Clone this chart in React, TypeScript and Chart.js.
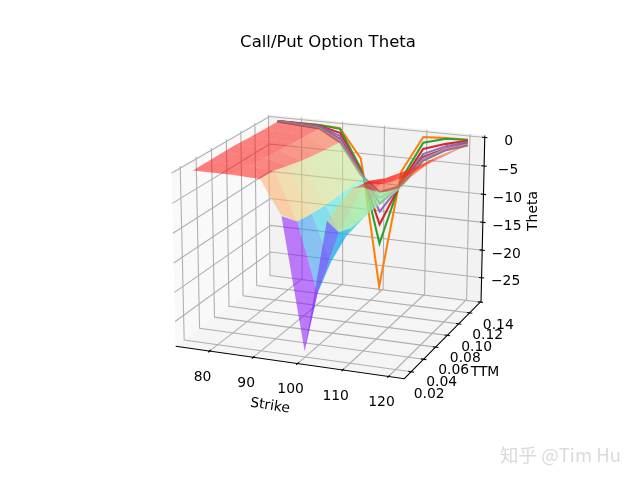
import { useEffect, useRef } from 'react';
import { Chart, registerables } from 'chart.js';

Chart.register(...registerables);

const TITLE = 'Call/Put Option Theta';
const WATERMARK = '知乎 @Tim Hu';

const strikeTicks = [80, 90, 100, 110, 120];
const ttmTicks = [0.02, 0.04, 0.06, 0.08, 0.1, 0.12, 0.14];
const thetaTicks = [-25, -20, -15, -10, -5, 0];
const ttmTickLabels = ['0.02', '0.04', '0.06', '0.08', '0.10', '0.12', '0.14'];

const ttm = [0.0192, 0.0385, 0.0577, 0.0769, 0.0962, 0.1154, 0.1346];

// surface: strikes read per expiry, the range gets narrower for short expiries
const strikes0 = [75.2, 84, 90.3, 94.8, 95, 100, 105, 110.5, 111, 110.7];
const strikes1 = [75.1, 84.5, 90.3, 95.3, 95.4, 99.9, 104.7, 110, 111.4, 110.5];
const strikes2 = [75, 85, 90.3, 95.5, 95.6, 99.9, 104.5, 109.8, 112, 110.7];
const strikes3 = [75, 85, 90.3, 95.7, 95.8, 99.9, 104.6, 109.7, 112.8, 111];
const strikes4 = [75.1, 85.2, 90.3, 95.8, 95.9, 100, 104.8, 109.7, 113.8, 111.5];
const strikes5 = [75.2, 85.3, 90.4, 95.9, 96, 100, 105, 109.8, 115.8, 112.5];
const strikes6 = [75.3, 85.4, 90.4, 96.1, 96.2, 100, 105.1, 110.1, 115.4, 120.4];

const theta0 = [-0.1, -0.1, -0.3, -5.7, -6, -28.2, -5.9, -0.1, -0.1, -0.1];
const theta1 = [-0.1, -0.1, -0.4, -8.5, -8.5, -20.3, -9.5, -1.6, -0.4, -1];
const theta2 = [-0.1, -0.2, -1.1, -8.8, -8.8, -16.8, -10.5, -3.8, -1.5, -2.6];
const theta3 = [-0.1, -0.3, -1.7, -8.9, -8.9, -14.5, -10.3, -5.5, -2, -3.6];
const theta4 = [-0.2, -0.5, -2.2, -8.9, -8.9, -13, -10, -6.4, -2.4, -4.2];
const theta5 = [-0.2, -0.6, -2.5, -8.7, -8.7, -12, -9.9, -6, -2, -4];
const theta6 = [-0.2, -0.7, -2.8, -8.6, -8.6, -11, -9.8, -5.2, -2.8, -1];

// line per expiry, all of them on the last expiry's strikes
const line0 = [-0.1, -0.1, -0.3, -5.3, -8.8, -28.2, -6.8, -0.4, -0.2, -0.1];
const line1 = [-0.1, -0.1, -0.4, -7.1, -8.8, -20.3, -8.2, -1.4, -0.3, -0.15];
const line2 = [-0.1, -0.2, -1.1, -7.6, -8.8, -16.8, -8.8, -2.5, -1.2, -0.3];
const line3 = [-0.1, -0.3, -1.7, -7.8, -8.8, -14.5, -9.1, -3.4, -1.6, -0.5];
const line4 = [-0.2, -0.5, -2.2, -8, -8.8, -13, -9.2, -3.9, -2, -0.7];
const line5 = [-0.2, -0.6, -2.5, -8.1, -8.7, -12, -9.3, -4.3, -2.1, -0.9];
const line6 = [-0.2, -0.7, -2.8, -8.2, -8.7, -11, -9.4, -4.6, -2.3, -1.1];
const lineStrikes = [75.3, 85.4, 90.4, 95.4, 96.2, 100, 105.1, 110.1, 115.4, 120.4];

const strikeRows = [strikes0, strikes1, strikes2, strikes3, strikes4, strikes5, strikes6];
const thetaRows = [theta0, theta1, theta2, theta3, theta4, theta5, theta6];
const lineRows = [line0, line1, line2, line3, line4, line5, line6];
const lineColors = ['#ff7f0e', '#2ca02c', '#d62728', '#9467bd', '#8c564b', '#e377c2', '#7f7f7f'];

// 3d box limits and camera
const xLim = [72.15, 123.4];
const yLim = [0.0092, 0.1415];
const zLim = [-29.3, 0.36];
const ELEV = (17.5 * Math.PI) / 180;
const AZIM = (-68.5 * Math.PI) / 180;
const CAM_DIST = 10;
const BOX_XY = 1.1428;
const BOX_Z = 0.857;
const SCALE = 2085;
const CENTER_X = 333;
const CENTER_Y = 239;

function project(k: number, t: number, z: number) {
  const px = ((k - xLim[0]) / (xLim[1] - xLim[0]) - 0.5) * BOX_XY;
  const py = ((t - yLim[0]) / (yLim[1] - yLim[0]) - 0.5) * BOX_XY;
  const pz = ((z - zLim[0]) / (zLim[1] - zLim[0]) - 0.5) * BOX_Z;
  const sa = Math.sin(AZIM);
  const ca = Math.cos(AZIM);
  const se = Math.sin(ELEV);
  const ce = Math.cos(ELEV);
  const right = px * -sa + py * ca;
  const up = px * -ca * se + py * -sa * se + pz * ce;
  const depth = CAM_DIST - (px * ca * ce + py * sa * ce + pz * se);
  return { x: CENTER_X + (SCALE * right) / depth, y: CENTER_Y - (SCALE * up) / depth, depth };
}

type P3 = [number, number, number];

function toPoints(path: P3[]) {
  return path.map(([k, t, z]) => {
    const p = project(k, t, z);
    return { x: p.x, y: p.y };
  });
}

function stroke(path: P3[], color: string, width: number) {
  return {
    data: toPoints(path),
    showLine: true,
    pointRadius: 0,
    borderColor: color,
    borderWidth: width,
    tension: 0,
    fill: false,
  };
}

function filled(path: P3[], color: string) {
  return {
    data: toPoints([...path, path[0]]),
    showLine: true,
    pointRadius: 0,
    borderWidth: 0,
    backgroundColor: color,
    tension: 0,
    fill: 'shape',
  };
}

// pulls the mid-high values towards green, the pale part of the surface is greener than a plain norm
function remap(t: number) {
  const from = [0, 0.45, 0.7, 0.8, 1];
  const to = [0, 0.5, 0.65, 0.76, 1];
  for (let i = 1; i < from.length; i++) {
    if (t <= from[i]) {
      return to[i - 1] + ((t - from[i - 1]) / (from[i] - from[i - 1])) * (to[i] - to[i - 1]);
    }
  }
  return 1;
}

function rainbow(t: number) {
  const r = Math.abs(2 * t - 0.5);
  const g = Math.sin(Math.PI * t);
  const b = Math.cos((Math.PI * t) / 2);
  const c = (v: number) => Math.round(Math.min(1, v) * 255);
  return `rgba(${c(r)},${c(g)},${c(b)},0.5)`;
}

function buildDatasets() {
  const [x0, x1] = xLim;
  const [y0, y1] = yLim;
  const [z0, z1] = zLim;
  const out: any[] = [];

  // panes
  out.push(filled([[x0, y0, z0], [x0, y1, z0], [x0, y1, z1], [x0, y0, z1]], '#f9f9f9'));
  out.push(filled([[x0, y1, z0], [x1, y1, z0], [x1, y1, z1], [x0, y1, z1]], '#f2f2f2'));
  out.push(filled([[x0, y0, z0], [x1, y0, z0], [x1, y1, z0], [x0, y1, z0]], '#f5f5f5'));

  // grid
  const gridColor = '#b0b0b0';
  strikeTicks.forEach((k) => {
    out.push(stroke([[k, y0, z0], [k, y1, z0], [k, y1, z1]], gridColor, 1.1));
  });
  ttmTicks.forEach((t) => {
    out.push(stroke([[x1, t, z0], [x0, t, z0], [x0, t, z1]], gridColor, 1.1));
  });
  thetaTicks.forEach((z) => {
    out.push(stroke([[x0, y0, z], [x0, y1, z], [x1, y1, z]], gridColor, 1.1));
  });

  // axis lines and tick marks
  out.push(stroke([[x0, y0, z0], [x1, y0, z0], [x1, y1, z0], [x1, y1, z1]], '#000', 1.1));
  const dy = (y1 - y0) * 0.014;
  const dx = (x1 - x0) * 0.012;
  strikeTicks.forEach((k) => out.push(stroke([[k, y0 - dy, z0], [k, y0 + dy, z0]], '#000', 1.1)));
  ttmTicks.forEach((t) => out.push(stroke([[x1 - dx, t, z0], [x1 + dx, t, z0]], '#000', 1.1)));
  thetaTicks.forEach((z) => out.push(stroke([[x1 - dx, y1, z], [x1 + dx, y1, z]], '#000', 1.1)));

  // every expiry drawn as a line on the back wall
  lineRows.forEach((row, i) => {
    const path = row.map((z, j): P3 => [lineStrikes[j], ttm[6], z]);
    out.push(stroke(path, lineColors[i], 2.08));
  });

  // surface, far quads first, coloured by the line values
  const quads: { path: P3[]; mean: number; depth: number }[] = [];
  for (let i = 0; i < ttm.length - 1; i++) {
    for (let j = 0; j < strikes0.length - 1; j++) {
      const path: P3[] = [
        [strikeRows[i][j], ttm[i], thetaRows[i][j]],
        [strikeRows[i][j + 1], ttm[i], thetaRows[i][j + 1]],
        [strikeRows[i + 1][j + 1], ttm[i + 1], thetaRows[i + 1][j + 1]],
        [strikeRows[i + 1][j], ttm[i + 1], thetaRows[i + 1][j]],
      ];
      const corners = [lineRows[i][j], lineRows[i][j + 1], lineRows[i + 1][j + 1], lineRows[i + 1][j]];
      // the far right strip stays red
      const mean = j >= 7 ? Math.max(...corners) : corners.reduce((s, v) => s + v, 0) / 4;
      const depth = path.reduce((s, p) => s + project(p[0], p[1], p[2]).depth, 0) / 4;
      quads.push({ path, mean, depth });
    }
  }
  const lo = Math.min(...quads.map((q) => q.mean));
  const hi = Math.max(...quads.map((q) => q.mean));
  quads.sort((a, b) => b.depth - a.depth);
  quads.forEach((q) => out.push(filled(q.path, rainbow(remap((q.mean - lo) / (hi - lo))))));

  // first in the list is painted first
  return out.map((d, i) => ({ ...d, order: -i }));
}

const textPlugin = {
  id: 'boxText',
  afterDraw(chart: any) {
    const ctx = chart.ctx;
    const put = (s: string, x: number, y: number, size = 13.9, rot = 0, color = '#000', family = 'DejaVu Sans') => {
      ctx.save();
      ctx.translate(x, y);
      ctx.rotate(rot);
      ctx.font = `${size}px "${family}"`;
      ctx.fillStyle = color;
      ctx.textAlign = 'center';
      ctx.textBaseline = 'middle';
      ctx.fillText(s, 0, 0);
      ctx.restore();
    };
    put(TITLE, 328, 43, 16.5);
    strikeTicks.forEach((k) => {
      const p = project(k, yLim[0], zLim[0]);
      put(String(k), p.x - 7, p.y + 26);
    });
    ttmTicks.forEach((t, i) => {
      const p = project(xLim[1], t, zLim[0]);
      put(ttmTickLabels[i], p.x + 18, p.y + 23);
    });
    thetaTicks.forEach((z) => {
      const p = project(xLim[1], yLim[1], z);
      put(String(z).replace('-', '\u2212'), p.x + 24, p.y + 4);
    });
    put('Strike', 270, 406, 13.9, (9 * Math.PI) / 180);
    put('TTM', 485, 372);
    put('Theta', 533, 211, 13.9, -Math.PI / 2);
    put(WATERMARK, 561.5, 456, 18.5, 0, '#ffffff', 'Noto Sans CJK SC');
    put(WATERMARK, 560.5, 455, 18.5, 0, '#dadada', 'Noto Sans CJK SC');
  },
};

export default function App() {
  const canvasRef = useRef<HTMLCanvasElement>(null);

  useEffect(() => {
    document.body.style.margin = '0';
    if (!canvasRef.current) return;
    const chart = new Chart(canvasRef.current, {
      type: 'scatter',
      data: { datasets: buildDatasets() },
      options: {
        animation: false,
        responsive: false,
        devicePixelRatio: 1,
        layout: { padding: 0 },
        scales: {
          x: { type: 'linear', display: false, min: 0, max: 640 },
          y: { type: 'linear', display: false, min: 0, max: 480, reverse: true },
        },
        plugins: {
          legend: { display: false },
          tooltip: { enabled: false },
        },
      },
      plugins: [textPlugin],
    } as any);

    return () => {
      chart.destroy();
    };
  }, []);

  return <canvas ref={canvasRef} width={640} height={480} style={{ display: 'block' }}></canvas>;
}
